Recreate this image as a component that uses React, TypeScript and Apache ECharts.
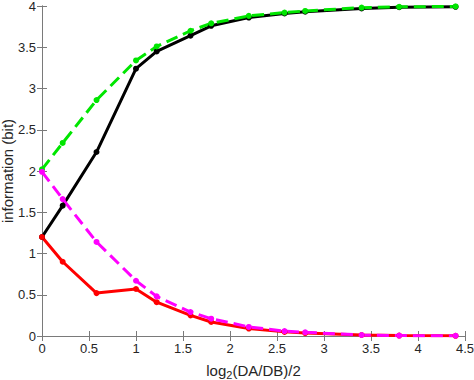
import React, { useEffect, useRef } from "react";
import * as echarts from "echarts";

const xValues = [0, 0.22, 0.58, 1, 1.22, 1.58, 1.8, 2.2, 2.58, 2.8, 3.4, 3.8, 4.4];
const blackValues = [1.2, 1.58, 2.23, 3.24, 3.45, 3.64, 3.76, 3.86, 3.91, 3.93, 3.97, 3.985, 3.99];
const greenValues = [2.02, 2.34, 2.86, 3.34, 3.51, 3.7, 3.79, 3.88, 3.92, 3.94, 3.98, 3.99, 3.995];
const redValues = [1.2, 0.9, 0.52, 0.57, 0.41, 0.25, 0.17, 0.09, 0.05, 0.035, 0.012, 0.005, 0.002];
const magentaValues = [1.99, 1.66, 1.14, 0.67, 0.48, 0.29, 0.21, 0.11, 0.06, 0.045, 0.012, 0.005, 0.003];
const xTicks = [0, 0.5, 1, 1.5, 2, 2.5, 3, 3.5, 4, 4.5];
const yTicks = [0, 0.5, 1, 1.5, 2, 2.5, 3, 3.5, 4];

const pairs = (ys: number[]) => xValues.map((x, i) => [x, ys[i]]);

export default function App() {
  const ref = useRef<HTMLDivElement>(null);
  useEffect(() => {
    if (!ref.current) return;
    const chart = echarts.init(ref.current, null, { renderer: "svg" });
    const font = "'Liberation Sans', Arial, sans-serif";
    const axisColor = "#7a7a7a";
    const labelColor = "#262626";
    const mkSeries = (name: string, data: number[], color: string, dashed: boolean) => ({
      name,
      type: "line",
      data: pairs(data),
      symbol: "circle",
      symbolSize: 6,
      itemStyle: { color },
      lineStyle: { color, width: 3, type: dashed ? [12, 6] : "solid" },
      z: 2,
    });
    chart.setOption({
      animation: false,
      grid: { left: 42, right: 9, top: 6, bottom: 44, containLabel: false, outerBoundsMode: "none" },
      xAxis: [
        {
          type: "value",
          min: 0,
          max: 4.5,
          interval: 0.5,
          name: "{a|log}{s|2}{a|(DA/DB)/2}",
          nameLocation: "middle",
          nameGap: 25,
          nameMoveOverlap: false,
          nameTextStyle: {
            rich: {
              a: { fontSize: 15, fontFamily: font, color: labelColor, lineHeight: 18 },
              s: { fontSize: 11, fontFamily: font, color: labelColor, lineHeight: 18, padding: [9, 0, 0, 0] },
            },
          },
          axisLine: { show: true, lineStyle: { color: axisColor, width: 1 } },
          axisTick: { show: true, inside: true, length: 5, lineStyle: { color: axisColor } },
          axisLabel: {
            color: labelColor,
            fontSize: 13,
            fontFamily: font,
            margin: 6,
            formatter: (v: number) => (xTicks.includes(v) ? String(v) : ""),
          },
          splitLine: { show: false },
        },
        {
          type: "value",
          position: "top",
          min: 0,
          max: 4.5,
          interval: 0.5,
          axisLine: { show: true, lineStyle: { color: axisColor, width: 1 } },
          axisTick: { show: true, inside: true, length: 5, lineStyle: { color: axisColor } },
          axisLabel: { show: false },
          splitLine: { show: false },
        },
      ],
      yAxis: [
        {
          type: "value",
          min: 0,
          max: 4,
          interval: 0.5,
          name: "information (bit)",
          nameLocation: "middle",
          nameGap: 27,
          nameMoveOverlap: false,
          nameTextStyle: { fontSize: 15, fontFamily: font, color: labelColor },
          axisLine: { show: true, lineStyle: { color: axisColor, width: 1 } },
          axisTick: { show: true, inside: true, length: 5, lineStyle: { color: axisColor } },
          axisLabel: {
            color: labelColor,
            fontSize: 13,
            fontFamily: font,
            margin: 6,
            formatter: (v: number) => (yTicks.includes(v) ? String(v) : ""),
          },
          splitLine: { show: false },
        },
        {
          type: "value",
          position: "right",
          min: 0,
          max: 4,
          interval: 0.5,
          axisLine: { show: true, lineStyle: { color: axisColor, width: 1 } },
          axisTick: { show: true, inside: true, length: 5, lineStyle: { color: axisColor } },
          axisLabel: { show: false },
          splitLine: { show: false },
        },
      ],
      series: [
        mkSeries("black", blackValues, "#000000", false),
        mkSeries("red", redValues, "#ff0000", false),
        mkSeries("green", greenValues, "#00e600", true),
        mkSeries("magenta", magentaValues, "#ff00ff", true),
      ],
    });
    return () => chart.dispose();
  }, []);
  return <div ref={ref} style={{ width: 474, height: 380, position: "absolute", left: 0, top: 0 }} />;
}
